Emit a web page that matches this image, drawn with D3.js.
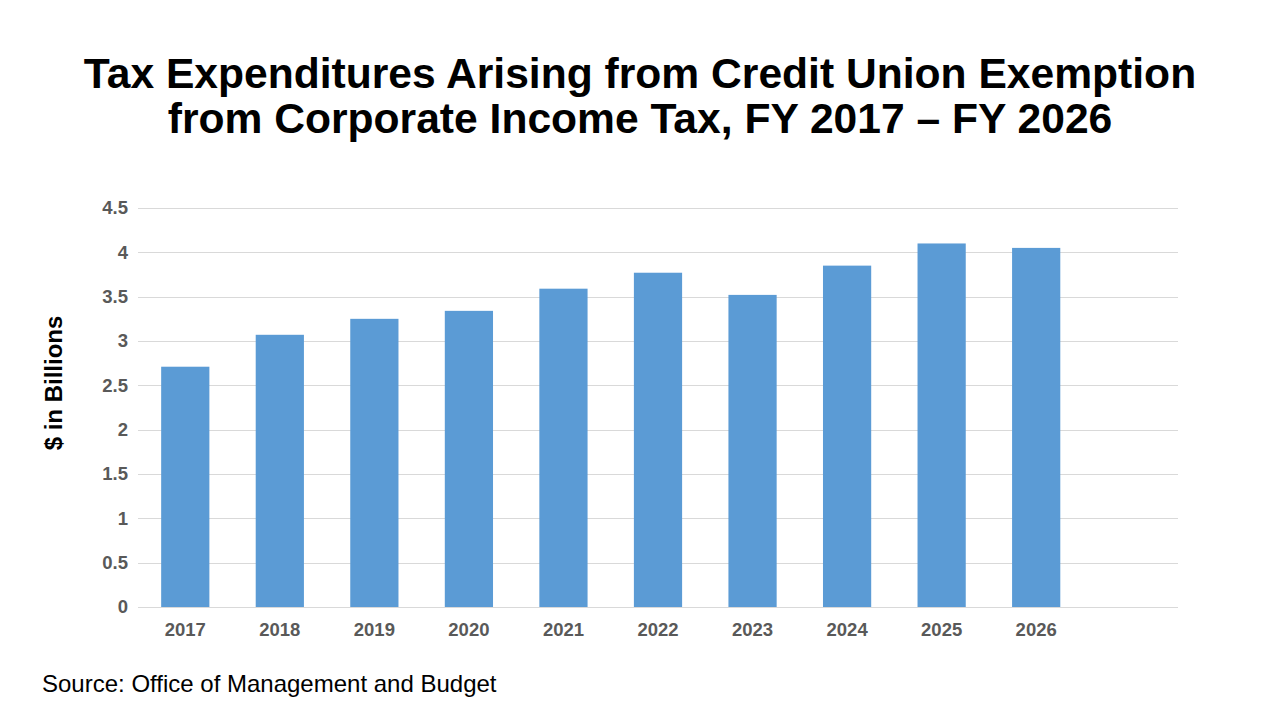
<!DOCTYPE html>
<html>
<head>
<meta charset="utf-8">
<script src="https://cdn.jsdelivr.net/npm/d3@7/dist/d3.min.js"></script>
<style>
  html, body { margin: 0; padding: 0; background: #fff; overflow: hidden; }
  svg { display: block; }
  text { font-family: "Liberation Sans", Arial, sans-serif; }
</style>
</head>
<body>
<div id="chart"></div>
<script>
// data
var years = ["2017", "2018", "2019", "2020", "2021", "2022", "2023", "2024", "2025", "2026"];
var values = [2.71, 3.07, 3.25, 3.34, 3.59, 3.77, 3.52, 3.85, 4.10, 4.05];
var yTicks = [0, 0.5, 1, 1.5, 2, 2.5, 3, 3.5, 4, 4.5];
var titleLines = [
  "Tax Expenditures Arising from Credit Union Exemption",
  "from Corporate Income Tax, FY 2017 \u2013 FY 2026"
];

var width = 1280, height = 720;
var margin = { top: 208, right: 102, bottom: 113, left: 138 };
var innerWidth = width - margin.left - margin.right;
var innerHeight = height - margin.top - margin.bottom;

var svg = d3.select("#chart")
  .append("svg")
  .attr("width", width)
  .attr("height", height);

//title
svg.append("g")
  .selectAll("text")
  .data(titleLines)
  .enter()
  .append("text")
  .attr("x", 640)
  .attr("y", function(d, i) { return 88 + i * 45; })
  .attr("text-anchor", "middle")
  .style("font-size", "42.6px")
  .style("font-weight", "bold")
  .attr("fill", "#000")
  .text(function(d) { return d; });

var g = svg.append("g")
  .attr("transform", "translate(" + margin.left + "," + margin.top + ")");

//the chart leaves one empty slot after 2026
var xScale = d3.scaleBand()
  .domain(years.concat(["_empty"]))
  .range([0, innerWidth])
  .paddingInner(0.49)
  .paddingOuter(0.245);

var yScale = d3.scaleLinear()
  .domain([0, 4.5])
  .range([innerHeight, 0]);

//gridlines
g.append("g")
  .selectAll("line")
  .data(yTicks)
  .enter()
  .append("line")
  .attr("x1", 0)
  .attr("x2", innerWidth)
  .attr("y1", function(d) { return Math.round(yScale(d)) + 0.5; })
  .attr("y2", function(d) { return Math.round(yScale(d)) + 0.5; })
  .style("stroke", "#d9d9d9")
  .style("stroke-width", 1);

//y axis
var yAxis = d3.axisLeft(yScale).tickValues(yTicks).tickSize(0).tickPadding(10)
  .tickFormat(function(d) { return String(d); });
g.append("g")
  .attr("class", "y axis")
  .call(yAxis);

//x axis, only the real years get a label
var xAxis = d3.axisBottom(xScale).tickValues(years).tickSize(0).tickPadding(16);
g.append("g")
  .attr("class", "x axis")
  .attr("transform", "translate(0," + innerHeight + ")")
  .call(xAxis);

g.selectAll(".domain").remove();
g.selectAll(".axis text")
  .attr("fill", "#595959")
  .style("font-size", "18.5px")
  .style("font-weight", "bold")
  .style("font-family", "'Liberation Sans', Arial, sans-serif");

//bars
g.selectAll(".bar")
  .data(values)
  .enter()
  .append("rect")
  .attr("class", "bar")
  .attr("x", function(d, i) { return xScale(years[i]); })
  .attr("width", xScale.bandwidth())
  .attr("y", function(d) { return yScale(d); })
  .attr("height", function(d) { return innerHeight - yScale(d); })
  .attr("fill", "#5b9bd5");

//y axis title
svg.append("text")
  .attr("transform", "translate(62,383) rotate(-90)")
  .attr("text-anchor", "middle")
  .style("font-size", "24px")
  .style("font-weight", "bold")
  .attr("fill", "#000")
  .text("$ in Billions");

//source
svg.append("text")
  .attr("x", 42)
  .attr("y", 692)
  .style("font-size", "24px")
  .attr("fill", "#000")
  .text("Source: Office of Management and Budget");
</script>
</body>
</html>
